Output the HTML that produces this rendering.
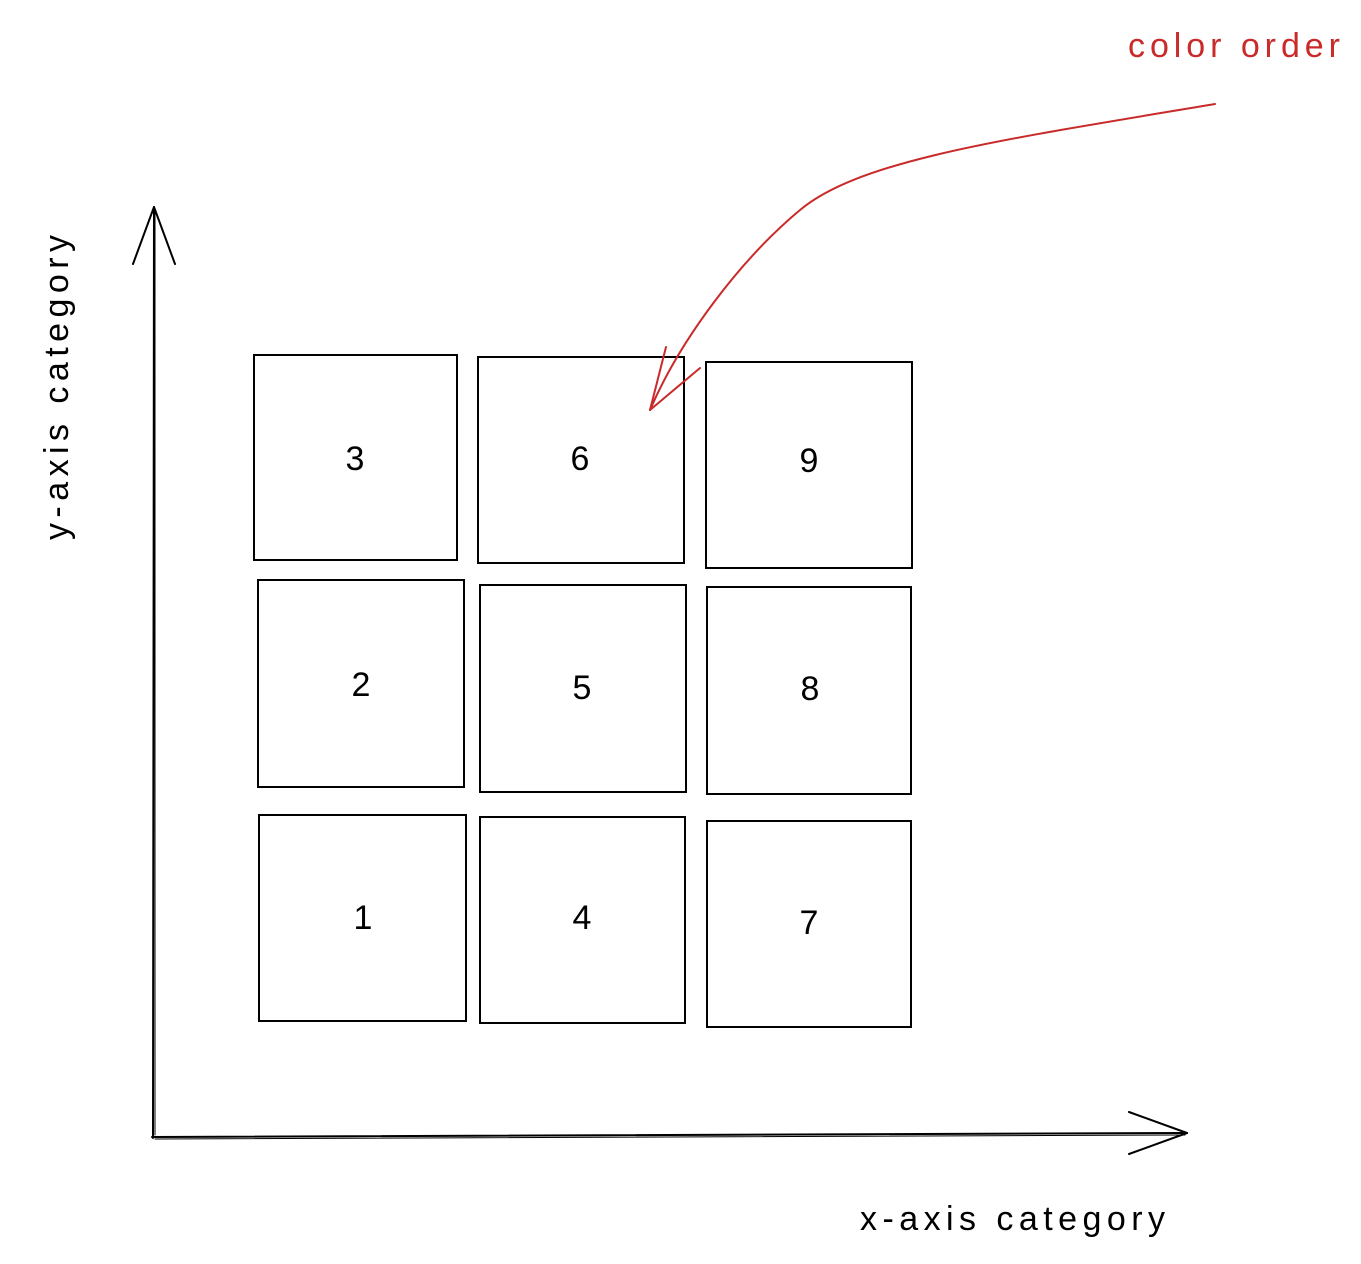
<!DOCTYPE html>
<html><head><meta charset="utf-8"><style>
html,body{margin:0;padding:0;background:#fff;}
svg{display:block;}
text{font-family:"Liberation Sans",sans-serif;}
</style></head><body>
<svg width="1361" height="1264" viewBox="0 0 1361 1264" xmlns="http://www.w3.org/2000/svg">
<g fill="none" stroke="#000" stroke-width="2" stroke-linecap="round">
<path d="M154 207 L153 1138"/><path d="M155 212 L155 1135" stroke-width="1"/>
<path d="M154 207 L133 264"/><path d="M154 207 L175 264"/>
<path d="M152 1137 L1187 1133"/><path d="M155 1139 L1185 1135" stroke-width="1"/>
<path d="M1187 1133 L1129 1112"/><path d="M1187 1133 L1129 1154"/>
<rect x="254" y="355" width="203" height="205"/>
<rect x="478" y="357" width="206" height="206"/>
<rect x="706" y="362" width="206" height="206"/>
<rect x="258" y="580" width="206" height="207"/>
<rect x="480" y="585" width="206" height="207"/>
<rect x="707" y="587" width="204" height="207"/>
<rect x="259" y="815" width="207" height="206"/>
<rect x="480" y="817" width="205" height="206"/>
<rect x="707" y="821" width="204" height="206"/>
</g>
<g fill="none" stroke="#c92a2a" stroke-width="2" stroke-linecap="round">
<path d="M1215 104 C1000 140 860 160 800 210 C740 260 680 340 650 410"/>
<path d="M650 410 L666 347"/><path d="M650 410 L700 368"/>
</g>
<g font-size="34" text-anchor="middle" fill="#000">
<text x="355" y="470">3</text><text x="580" y="470">6</text><text x="809" y="472">9</text>
<text x="361" y="696">2</text><text x="582" y="699">5</text><text x="810" y="700">8</text>
<text x="363" y="929">1</text><text x="582" y="929">4</text><text x="809" y="934">7</text>
</g>
<text x="860" y="1230" font-size="34" fill="#000" textLength="305">x-axis category</text>
<text transform="translate(68,540) rotate(-90)" font-size="34" fill="#000" textLength="305">y-axis category</text>
<text x="1128" y="57" font-size="34" fill="#c92a2a" textLength="212">color order</text>
</svg>
</body></html>
